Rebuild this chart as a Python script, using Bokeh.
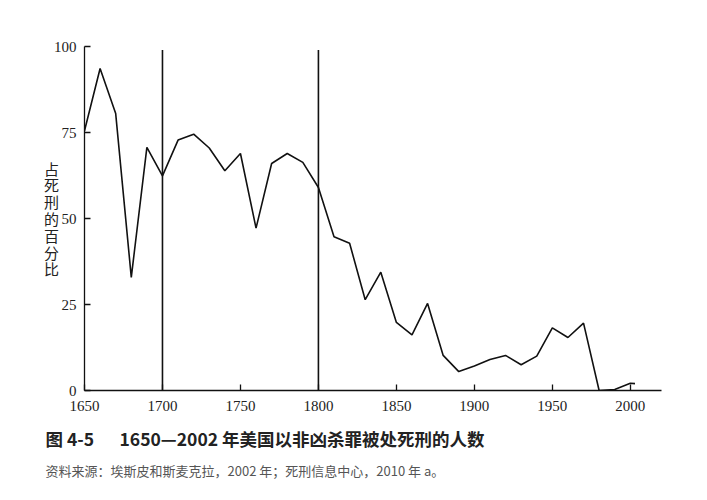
from bokeh.plotting import figure
from bokeh.models import Range1d, Title, FixedTicker
from bokeh.embed import file_html
from bokeh.resources import INLINE

years = [1650, 1660, 1670, 1680, 1690, 1700, 1710, 1720, 1730, 1740, 1750, 1760,
         1770, 1780, 1790, 1800, 1810, 1820, 1830, 1840, 1850, 1860, 1870, 1880,
         1890, 1900, 1910, 1920, 1930, 1940, 1950, 1960, 1970, 1980, 1990, 2000, 2003]
percent = [75.5, 93.6, 80.5, 32.9, 70.7, 62.4, 72.8, 74.5, 70.5, 63.9, 68.9, 47.2,
           66.0, 68.9, 66.3, 59.0, 44.7, 42.8, 26.4, 34.4, 19.8, 16.2, 25.3, 10.2,
           5.5, 7.1, 9.0, 10.2, 7.5, 10.0, 18.2, 15.4, 19.6, 0.0, 0.3, 2.1, 2.0]
x_ticks = [1650, 1700, 1750, 1800, 1850, 1900, 1950, 2000]
y_ticks = [0, 25, 50, 75, 100]
marker_years = [1700, 1800]
marker_top = 99

y_label = "占死刑的百分比"
title_text = "图 4-5\u2003\u00a0\u00a01650—2002 年美国以非凶杀罪被处死刑的人数"
source_text = "资料来源：埃斯皮和斯麦克拉，2002 年；死刑信息中心，2010 年 a。"

p = figure(width=707, height=500, output_backend="svg", toolbar_location=None,
           x_range=Range1d(1650, 2020), y_range=Range1d(0, 100),
           min_border_left=84, min_border_right=46, min_border_top=46, min_border_bottom=110)
p.outline_line_color = None
p.grid.visible = False
p.background_fill_color = "white"

for ax, ticks in ((p.xaxis, x_ticks), (p.yaxis, y_ticks)):
    ax.ticker = FixedTicker(ticks=ticks)
    ax.minor_tick_line_color = None
    ax.major_tick_in = 6
    ax.major_tick_out = 0
    ax.axis_line_color = "#111111"
    ax.major_tick_line_color = "#111111"
    ax.axis_line_width = 1.3
    ax.major_tick_line_width = 1.3
    ax.major_label_text_font = "Liberation Serif"
    ax.major_label_text_font_size = "15px"
    ax.major_label_text_color = "#222222"
p.xaxis.major_label_standoff = 10
p.yaxis.major_label_standoff = 8

p.yaxis.axis_label = "\n".join(y_label)
p.yaxis.axis_label_orientation = "horizontal"
p.yaxis.axis_label_text_font = "Noto Sans CJK SC"
p.yaxis.axis_label_text_font_size = "15px"
p.yaxis.axis_label_text_font_style = "normal"
p.yaxis.axis_label_text_color = "#222222"
p.yaxis.axis_label_text_line_height = 0.8
p.yaxis.axis_label_standoff = -8

p.add_layout(Title(text=title_text, align="left", offset=-39, standoff=21,
                   text_font="Noto Sans CJK SC", text_font_size="17.5px",
                   text_font_style="bold", text_color="#222222"), "below")
p.add_layout(Title(text=source_text, align="left", offset=-39, standoff=-6,
                   text_font="Noto Sans CJK SC", text_font_size="13px",
                   text_font_style="normal", text_color="#555555"), "below")

p.segment(x0=marker_years, y0=[0] * len(marker_years), x1=marker_years,
          y1=[marker_top] * len(marker_years), line_color="#111111", line_width=1.6)
p.line(years, percent, line_color="#111111", line_width=1.6)

open("out.html", "w").write(file_html(p, INLINE))
